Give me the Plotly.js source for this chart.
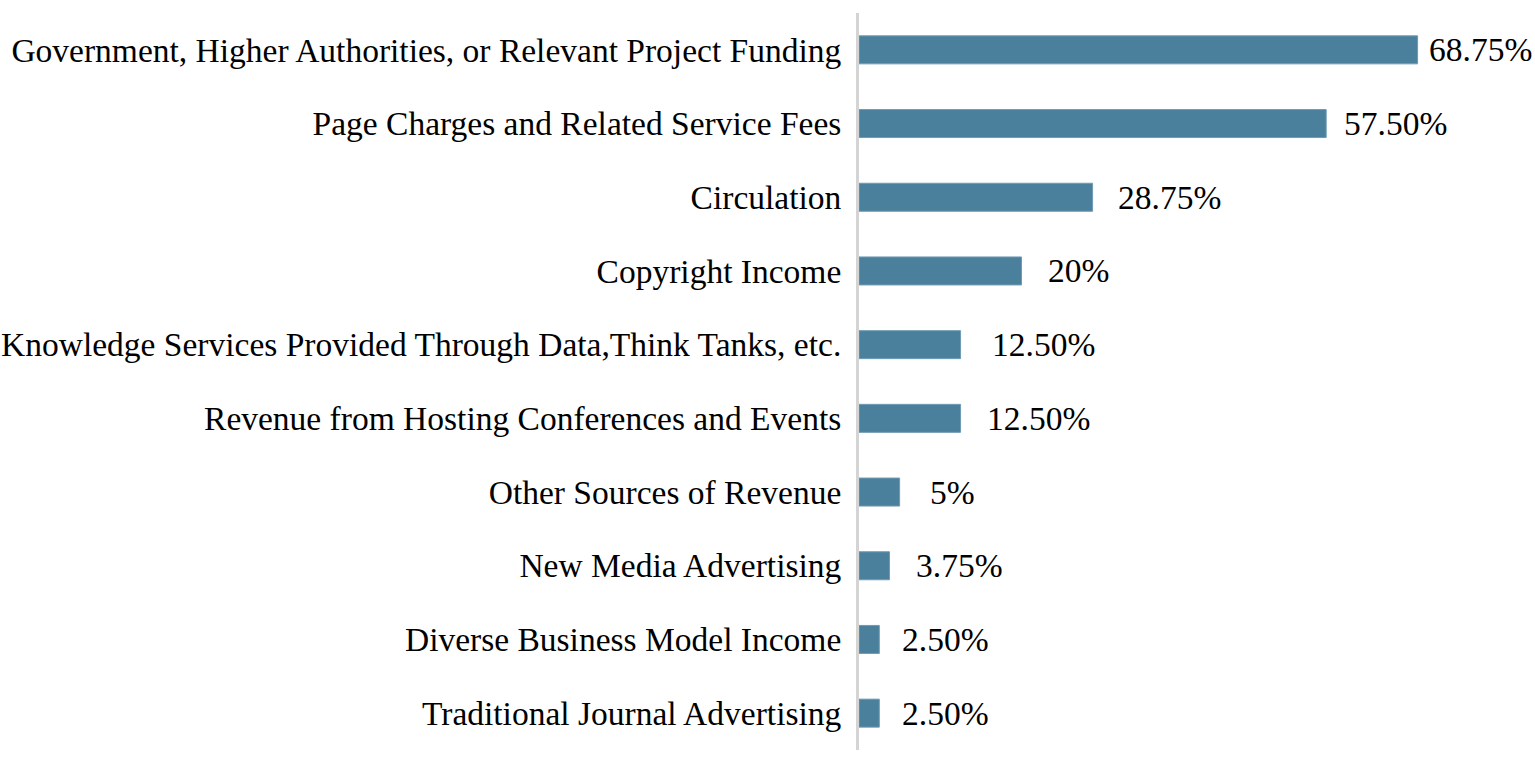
<!DOCTYPE html>
<html>
<head>
<meta charset="utf-8">
<script src="https://cdn.plot.ly/plotly-3.0.1.min.js"></script>
<style>
  html, body { margin: 0; padding: 0; background: #ffffff; }
  #chart { width: 1535px; height: 761px; }
</style>
</head>
<body>
<div id="chart"></div>
<script>
// Revenue sources, listed top to bottom
const categories = [
  "Government, Higher Authorities, or Relevant Project Funding",
  "Page Charges and Related Service Fees",
  "Circulation",
  "Copyright Income",
  "Knowledge Services Provided Through Data,Think Tanks, etc.",
  "Revenue from Hosting Conferences and Events",
  "Other Sources of Revenue",
  "New Media Advertising",
  "Diverse Business Model Income",
  "Traditional Journal Advertising"
];
const shares = [68.75, 57.5, 28.75, 20, 12.5, 12.5, 5, 3.75, 2.5, 2.5];
const shareLabels = ["68.75%", "57.50%", "28.75%", "20%", "12.50%", "12.50%", "5%", "3.75%", "2.50%", "2.50%"];

const serif = "Liberation Serif, Times New Roman, serif";

// gap in pixels between each bar end and its value label
const labelGaps = [9, 16, 23, 24, 29, 24, 28, 25, 21, 21];

const trace = {
  type: "bar",
  orientation: "h",
  y: categories,
  x: shares,
  width: 0.38,
  marker: { color: "#4b809c", line: { color: "#6f9bb3", width: 1 } },
  hoverinfo: "skip"
};

const annotations = categories.map((c, i) => ({
  x: shares[i],
  y: c,
  xref: "x",
  yref: "y",
  text: shareLabels[i],
  showarrow: false,
  xanchor: "left",
  yanchor: "middle",
  xshift: labelGaps[i],
  font: { family: serif, size: 33.5, color: "#000000" }
}));

const layout = {
  width: 1535,
  height: 761,
  margin: { l: 859, r: 26, t: 13, b: 11 },
  paper_bgcolor: "#ffffff",
  plot_bgcolor: "#ffffff",
  showlegend: false,
  xaxis: {
    range: [0, 80],
    visible: false,
    fixedrange: true
  },
  yaxis: {
    autorange: "reversed",
    showline: true,
    linecolor: "#d4d4d4",
    linewidth: 3,
    showgrid: false,
    zeroline: false,
    ticks: "",
    ticklabelstandoff: 8,
    tickfont: { family: serif, size: 33.5, color: "#000000" },
    fixedrange: true
  },
  annotations: annotations
};

Plotly.newPlot("chart", [trace], layout, { displayModeBar: false, staticPlot: true });
</script>
</body>
</html>
